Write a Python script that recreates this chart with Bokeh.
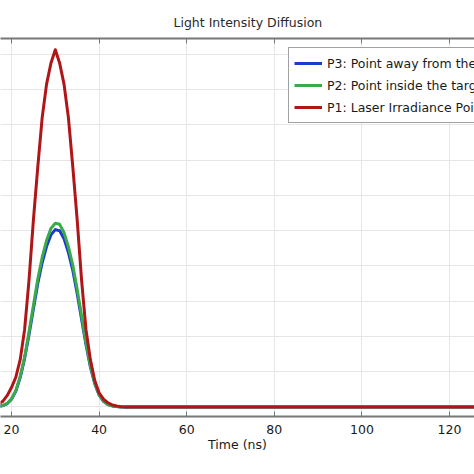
from bokeh.plotting import figure
from bokeh.models import (Range1d, LinearAxis, Legend, LegendItem, SingleIntervalTicker,
                          CustomJSTickFormatter, Grid)
from bokeh.embed import file_html
from bokeh.resources import INLINE

# ---- data ----
time_ns = [15, 16, 17, 18, 19, 20, 21, 22, 23, 24, 25, 26, 27, 28, 29, 30, 31, 32, 33, 34,
           35, 36, 37, 38, 39, 40, 41, 42, 43, 44, 45, 46, 50, 60, 70, 80, 90, 100, 110, 120, 130]
p1_laser = [0.03, 0.05, 0.09, 0.16, 0.32, 0.55, 0.85, 1.35, 2.2, 3.6, 5.3, 6.8, 8.2, 9.15, 9.75,
            10.13, 9.75, 9.15, 8.2, 6.8, 5.3, 3.6, 2.2, 1.35, 0.75, 0.4, 0.22, 0.12, 0.06, 0.03,
            0.01, 0.0, 0.0, 0.0, 0.0, 0.0, 0.0, 0.0, 0.0, 0.0, 0.0]
p2_inside = [0.005, 0.01, 0.015, 0.04, 0.1, 0.23, 0.47, 0.87, 1.42, 2.13, 2.88, 3.63, 4.24, 4.72,
             5.06, 5.21, 5.18, 4.94, 4.54, 4.02, 3.33, 2.58, 1.83, 1.18, 0.69, 0.35, 0.17, 0.07,
             0.03, 0.01, 0.0, 0.0, 0.0, 0.0, 0.0, 0.0, 0.0, 0.0, 0.0, 0.0, 0.0]
p3_away = [0.005, 0.01, 0.015, 0.04, 0.09, 0.22, 0.45, 0.84, 1.38, 2.05, 2.78, 3.5, 4.09, 4.55,
           4.88, 5.03, 5.0, 4.77, 4.38, 3.87, 3.21, 2.49, 1.77, 1.14, 0.66, 0.34, 0.16, 0.07,
           0.03, 0.01, 0.0, 0.0, 0.0, 0.0, 0.0, 0.0, 0.0, 0.0, 0.0, 0.0, 0.0]
labels = ["P3: Point away from the target", "P2: Point inside the target",
          "P1: Laser Irradiance Point"]
colors = ["#1a3ccc", "#3aaa4a", "#b01518"]
x_ticks_step = 20

FONT = "DejaVu Sans"
FS = "12.5px"

p = figure(width=474, height=474, output_backend="svg", toolbar_location=None,
           x_range=Range1d(17.49, 125.7), y_range=Range1d(-0.27, 10.45),
           y_axis_location=None, min_border_left=0, min_border_right=0,
           min_border_top=38, min_border_bottom=0,
           title="Light Intensity Diffusion")
p.frame_width = 474
p.frame_height = 378

p.title.align = "left"
p.title.offset = 173
p.title.text_font = FONT
p.title.text_font_size = FS
p.title.text_font_style = "normal"
p.title.text_color = "#2a2a2a"
p.title.standoff = 10

# bottom axis
xa = p.xaxis[0]
xa.ticker = SingleIntervalTicker(interval=x_ticks_step)
xa.axis_label = "Time (ns)"
xa.axis_label_text_font = FONT
xa.axis_label_text_font_size = FS
xa.axis_label_text_font_style = "normal"
xa.axis_label_text_color = "#1a1a1a"
xa.axis_label_standoff = 0
xa.major_label_text_font = FONT
xa.major_label_text_font_size = FS
xa.major_label_text_color = "#1a1a1a"
xa.major_label_standoff = 4
xa.major_tick_in = 5
xa.major_tick_out = 0
xa.minor_tick_line_color = None
xa.axis_line_color = "#777777"
xa.axis_line_width = 2
xa.major_tick_line_color = "#777777"

# top axis (ticks only)
top = LinearAxis(ticker=SingleIntervalTicker(interval=x_ticks_step),
                 formatter=CustomJSTickFormatter(code="return ''"),
                 major_tick_in=5, major_tick_out=0, minor_tick_line_color=None,
                 axis_line_color="#777777", axis_line_width=2,
                 major_tick_line_color="#777777", major_label_standoff=0)
p.add_layout(top, "above")

p.xgrid.grid_line_color = "#e6e6e6"
p.xgrid.ticker = SingleIntervalTicker(interval=x_ticks_step)
p.add_layout(Grid(dimension=1, ticker=SingleIntervalTicker(interval=1),
                  grid_line_color="#e6e6e6"))
p.outline_line_color = None
p.background_fill_color = "white"

renderers = []
for ys, c in zip([p3_away, p2_inside, p1_laser], colors):
    r = p.line(time_ns, ys, line_color=c, line_width=3, line_join="round")
    renderers.append(r)

legend = Legend(items=[LegendItem(label=l, renderers=[r]) for l, r in zip(labels, renderers)],
                location=(288, 293), label_text_font=FONT, label_text_font_size=FS,
                label_text_color="#1a1a1a", glyph_width=28, glyph_height=20,
                label_height=20, spacing=2, padding=5, margin=0,
                border_line_color="#444444", border_line_width=1,
                background_fill_color="white", background_fill_alpha=1.0)
p.add_layout(legend)

open("out.html", "w").write(file_html(p, INLINE))
